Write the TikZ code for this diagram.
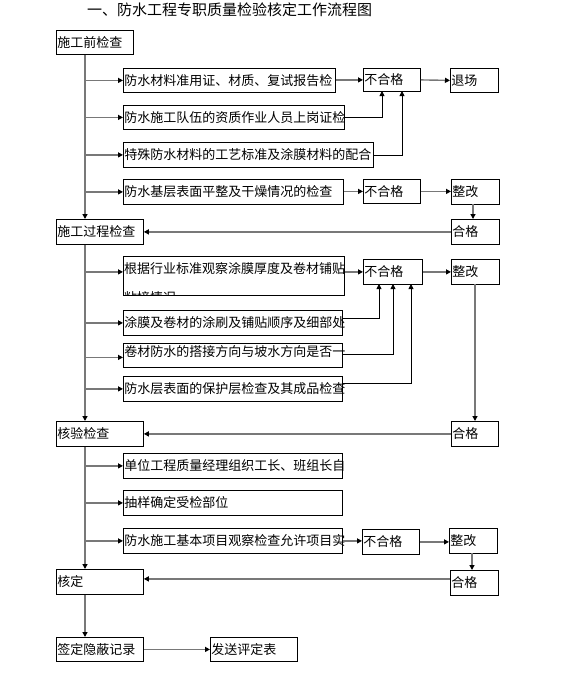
\documentclass[tikz,border=0pt]{standalone}
\usepackage{fontspec}
\setmainfont{Noto Sans CJK SC}
\usetikzlibrary{arrows.meta}
\definecolor{lineg}{RGB}{120,120,120}
\tikzset{
  box/.style={draw=black, line width=0.8pt, inner sep=1pt, anchor=north west, font=\fontsize{13}{15}\selectfont, align=left},
  garrow/.style={draw=lineg, line width=1.4pt, -{Triangle[length=5pt,width=5pt,color=black]}},
  barrow/.style={draw=black, line width=0.8pt, -{Triangle[length=5pt,width=5pt,color=black]}},
}
\newcommand{\mybox}[6]{% name, x1, y1, x2, y2, text
  \node[box, minimum width={#4-#2}, minimum height={#5-#3}, text width={#4-#2-2}] (#1) at (#2,#3) {#6};}
\begin{document}
\begin{tikzpicture}[x=1pt,y=-1pt]
\useasboundingbox (0,0) rectangle (564,697);
\node[anchor=west, inner sep=0, font=\fontsize{15}{17}\selectfont] (title) at (87,10) {一、防水工程专职质量检验核定工作流程图};
\coordinate (spine) at (85,0);
% column of main steps
\mybox{n0}{56}{30}{133}{54}{施工前检查}
\mybox{n1}{56}{219}{143}{244}{施工过程检查}
\mybox{n2}{56}{421}{143}{446}{核验检查}
\mybox{n3}{56}{569}{143}{594}{核定}
\mybox{n4}{56}{637}{143}{661}{签定隐蔽记录}
\mybox{n5}{210}{637}{297}{661}{发送评定表}
% group 1
\mybox{b1}{123}{68}{335}{92}{防水材料准用证、材质、复试报告检}
\mybox{b2}{123}{105}{344}{129}{防水施工队伍的资质作业人员上岗证检}
\mybox{b3}{123}{142}{373}{167}{特殊防水材料的工艺标准及涂膜材料的配合}
\mybox{b4}{123}{179}{343}{204}{防水基层表面平整及干燥情况的检查}
\mybox{f1}{363}{68}{420}{91}{不合格}
\mybox{t1}{450}{68}{498}{92}{退场}
\mybox{f2}{363}{179}{420}{203}{不合格}
\mybox{z1}{451}{179}{499}{204}{整改}
\mybox{h1}{451}{219}{499}{244}{合格}
% group 2
\node[box, minimum width=221, minimum height=39] (b5) at (123,256) {};
\begin{scope}
  \clip (b5.north west) rectangle (b5.south east);
  \node[anchor=north west, inner sep=0, font=\fontsize{13}{29}\selectfont, align=left] (b5t) at (124,262) {根据行业标准观察涂膜厚度及卷材铺贴\\粘接情况};
\end{scope}
\mybox{b6}{123}{310}{342}{335}{涂膜及卷材的涂刷及铺贴顺序及细部处}
\node[box, minimum width=219, minimum height=24, text width=217, text depth=9pt] (b7) at (123,343) {卷材防水的搭接方向与坡水方向是否一};
\mybox{b8}{123}{376}{342}{401}{防水层表面的保护层检查及其成品检查}
\mybox{f3}{363}{259}{422}{284}{不合格}
\mybox{z2}{451}{259}{499}{284}{整改}
\mybox{h2}{451}{421}{498}{446}{合格}
% group 3
\mybox{b9}{123}{453}{342}{478}{单位工程质量经理组织工长、班组长自}
\mybox{b10}{123}{490}{342}{515}{抽样确定受检部位}
\mybox{b11}{123}{528}{342}{553}{防水施工基本项目观察检查允许项目实}
\mybox{f4}{362}{529}{419}{554}{不合格}
\mybox{z3}{449}{528}{497}{553}{整改}
\mybox{h3}{450}{570}{498}{595}{合格}
% spine
\draw[garrow] (spine |- n0.south) -- (spine |- n1.north);
\draw[garrow] (spine |- n1.south) -- (spine |- n2.north);
\draw[garrow] (spine |- n2.south) -- (spine |- n3.north);
\draw[garrow] (spine |- n3.south) -- (spine |- n4.north);
\draw[garrow] (n4.east) -- (n5.west);
% branches
\foreach \b in {b1,b2,b3,b4,b6,b8,b9,b10,b11}
  \draw[garrow] (spine |- \b.west) -- (\b.west);
\draw[garrow] (spine |- f3.west) -- (b5.west |- f3.west);
\draw[garrow] ([yshift=-2pt]spine |- b7.west) -- ([yshift=-2pt]b7.west);
% group 1 connectors
\draw[garrow] (b1.east |- f1.west) -- (f1.west);
\draw[garrow] (f1.east) -- (t1.west);
\draw[barrow] (b2.east) -| (382,91);
\draw[barrow] (b3.east) -| (402,91);
\draw[garrow] (b4.east |- f2.west) -- (f2.west);
\draw[garrow] (f2.east) -- (z1.west |- f2.east);
\draw[garrow] (473,204) -- (473,219);
\draw[garrow] (h1.west) -- (n1.east);
% group 2 connectors
\draw[garrow] (b5.east |- f3.west) -- (f3.west);
\draw[garrow] (f3.east) -- (z2.west);
\draw[barrow] ([yshift=4.5pt]b6.east) -| (379,284);
\draw[barrow] ([yshift=1pt]b7.east) -| (393,284);
\draw[barrow] ([yshift=5.5pt]b8.east) -| (411,284);
\draw[garrow] (475,284) -- (475,421);
\draw[garrow] (h2.west) -- (n2.east);
% group 3 connectors
\draw[garrow] (b11.east) -- (f4.west |- b11.east);
\draw[garrow] (f4.east) -- (z3.west |- f4.east);
\draw[garrow] (472,553) -- (472,570);
\draw[garrow] ([yshift=4pt]h3.west) -- ([yshift=4pt]h3.west -| n3.east);
\end{tikzpicture}
\end{document}
